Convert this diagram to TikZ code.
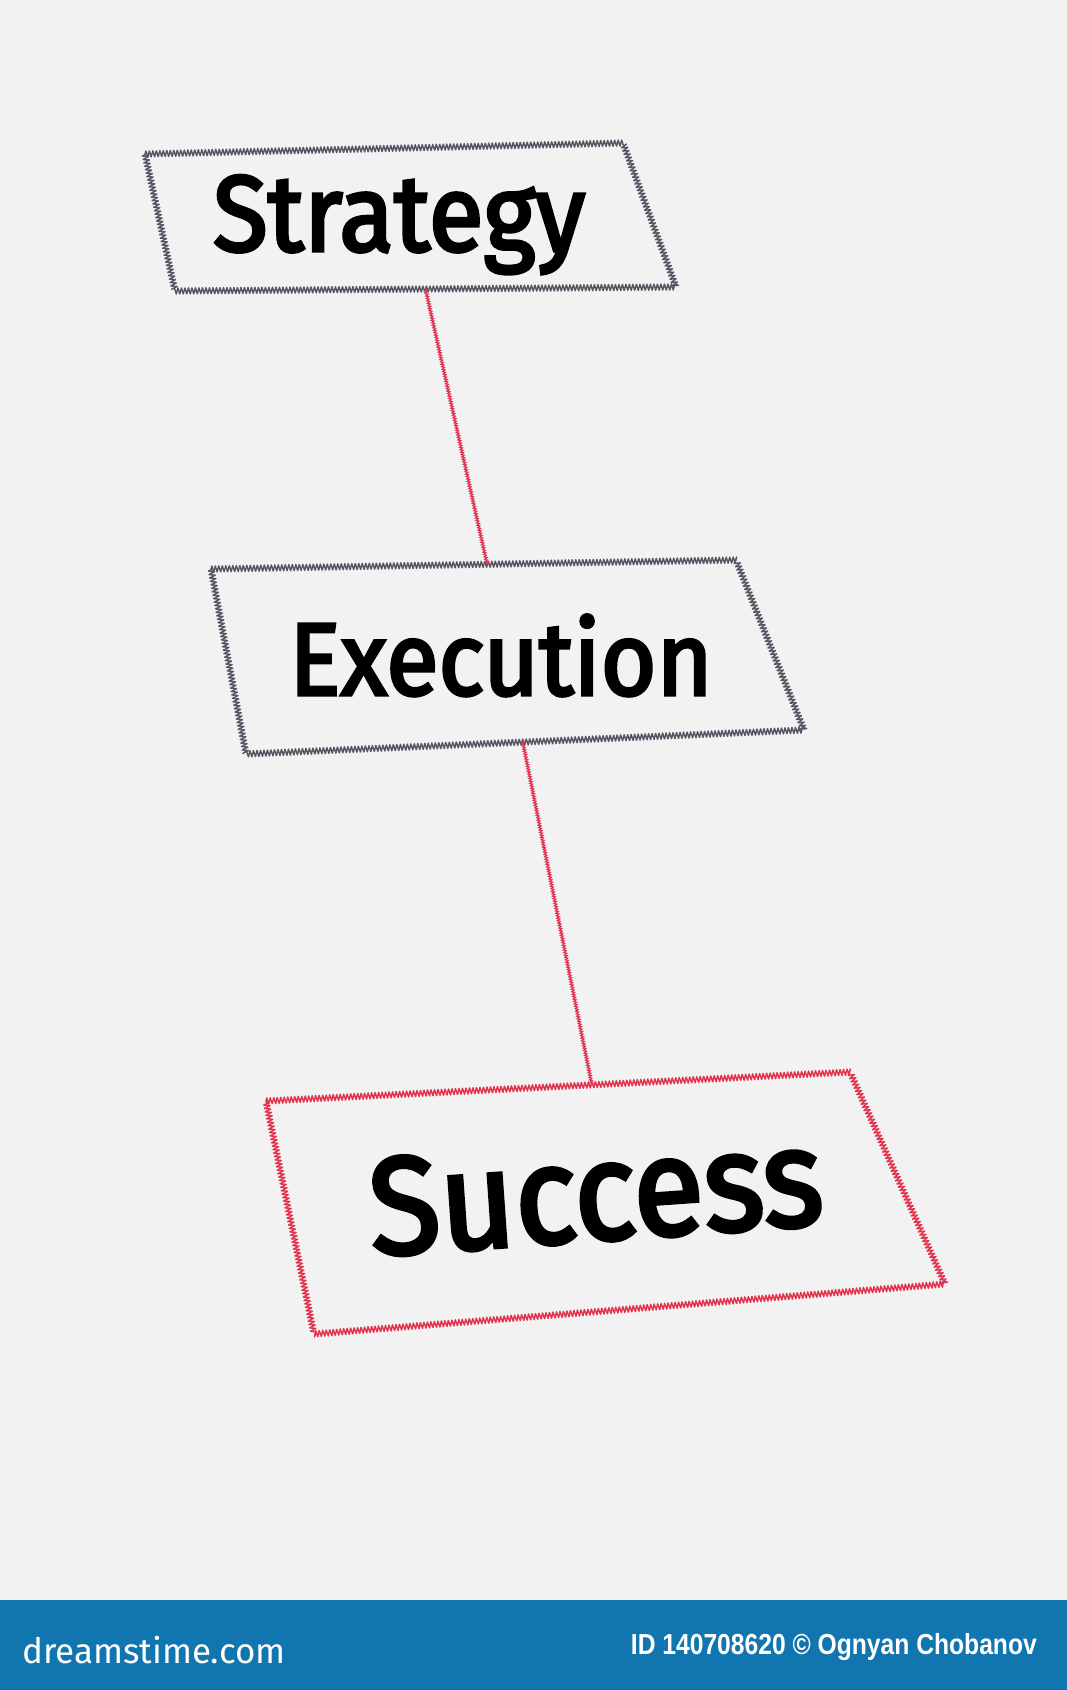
\documentclass[tikz,border=0pt]{standalone}
\usepackage{fontspec}
\setmainfont{Fira Sans}
\newfontfamily\handfont{Fira Sans}[FakeStretch=0.93, FakeBold=3]
\newfontfamily\creditfont{Liberation Sans}[FakeStretch=0.85]
\usepackage{tikz}
\usetikzlibrary{positioning}
\usetikzlibrary{calc}
\usetikzlibrary{decorations.pathmorphing}
\definecolor{mypaper}{RGB}{242,242,243}
\definecolor{mypencil}{RGB}{92,84,98}
\definecolor{myred}{RGB}{226,52,78}
\definecolor{mybar}{RGB}{17,118,176}

\begin{document}
\begin{tikzpicture}[x=1pt,y=-1pt,
	sketchbox/.style={line width=1.4pt, line join=round,
	    decorate, decoration={zigzag, segment length=3.5pt, amplitude=3pt}},
	sketchline/.style={draw=myred, line width=1.3pt,
	    decorate, decoration={zigzag, segment length=2.5pt, amplitude=1.2pt}}]
	\fill[mypaper] (0,0) rectangle (1067,1600);
	\fill[mybar] (0,1600) rectangle (1067,1690);
	\useasboundingbox (0,0) rectangle (1067,1690);

	\coordinate (S1) at (145,154);
	\coordinate (S2) at (623,143);
	\coordinate (S3) at (676,287);
	\coordinate (S4) at (175,291);
	\coordinate (E1) at (211,569);
	\coordinate (E2) at (736,560);
	\coordinate (E3) at (804,730);
	\coordinate (E4) at (246,754);
	\coordinate (U1) at (266,1101);
	\coordinate (U2) at (850,1072);
	\coordinate (U3) at (945,1284);
	\coordinate (U4) at (314,1334);

	\draw[sketchbox, mypencil] (S1) -- (S2) -- (S3) -- (S4) -- cycle;
	\draw[sketchbox, mypencil] (E1) -- (E2) -- (E3) -- (E4) -- cycle;
	\draw[sketchbox, myred] (U1) -- (U2) -- (U3) -- (U4) -- cycle;

	\begin{scope}[every node/.style={text=black, anchor=base, inner sep=0pt,
	              font=\handfont\fontsize{108}{120}\selectfont}]
	    \node (strategy) at (399,251) {Strategy};
	    \node (execution) [font=\handfont\fontsize{103}{115}\selectfont] at (501,695) {Execution};
	    \node (success) [rotate=4, font=\handfont\fontsize{139}{150}\selectfont] at (599,1240) {Success};
	\end{scope}

	\coordinate (sb) at ($(S4)!0.50!(S3)$);
	\coordinate (et) at ($(E1)!0.526!(E2)$);
	\coordinate (eb) at ($(E4)!0.496!(E3)$);
	\coordinate (ut) at ($(U1)!0.558!(U2)$);
	\path[sketchline] (sb) -- (et);
	\path[sketchline] (eb) -- (ut);

	\begin{scope}[every node/.style={text=white, inner sep=0pt}]
	    \node (logo) [anchor=west, font=\fontsize{35}{40}\selectfont] at (22,1650) {dreamstime.com};
	    \node (credit) [anchor=east, font=\creditfont\bfseries\fontsize{29}{32}\selectfont] at (1037,1647) {ID 140708620 © Ognyan Chobanov};
	\end{scope}
\end{tikzpicture}
\end{document}
